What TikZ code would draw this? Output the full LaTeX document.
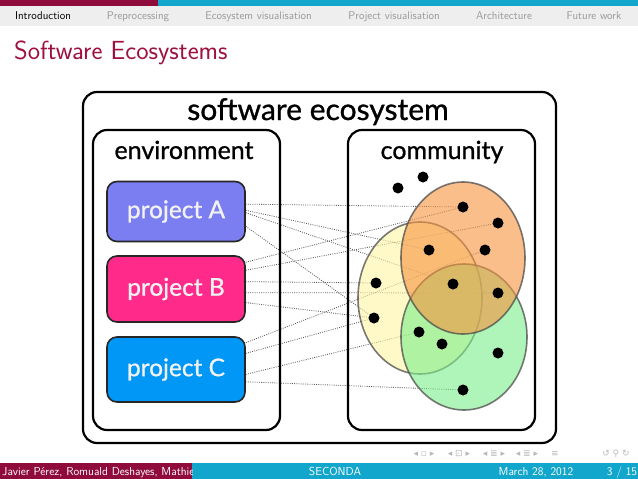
\documentclass[tikz,border=0pt]{standalone}
\usepackage{fontspec}
\newfontfamily\gill[FakeBold=0.9]{Lato}
\newfontfamily\dejavu{DejaVu Sans}
\definecolor{bred}{HTML}{8E0B3C}
\definecolor{bteal}{HTML}{12A6CC}
\definecolor{navgray}{HTML}{EEEEEE}
\definecolor{titlered}{HTML}{9E1040}
\definecolor{projA}{HTML}{7A7EF0}
\definecolor{projB}{HTML}{FF2A8A}
\definecolor{projC}{HTML}{0097F6}
\definecolor{ellO}{RGB}{247,147,63}
\definecolor{ellY}{RGB}{255,245,163}
\definecolor{ellG}{RGB}{122,238,138}
\pgfdeclarelayer{back}
\pgfdeclarelayer{links}
\pgfdeclarelayer{blobs}
\pgfsetlayers{back,links,blobs,main}
\begin{document}
\begin{tikzpicture}[x=1pt,y=-1pt,
  navtxt/.style={font=\sffamily\fontsize{11.2}{12}\selectfont, text=black!40, anchor=base, inner sep=0},
  foottxt/.style={font=\sffamily\fontsize{11.6}{12}\selectfont, text=white, anchor=base, inner sep=0},
  frame/.style={draw=black, line width=2.2pt, rounded corners=14pt, inner sep=0},
  proj/.style={draw=black!85, line width=1.6pt, rounded corners=10pt, minimum width=138pt, minimum height=60pt, inner sep=0, text=white!95!black, font=\gill\fontsize{24.5}{26}\selectfont},
  lbl/.style={font=\gill\fontsize{25}{28}\selectfont, anchor=base, inner sep=0},
  person/.style={circle, fill=black, minimum size=11pt, inner sep=0},
  link/.style={draw=black!65, line width=0.8pt, dash pattern=on 0.9pt off 1.3pt},
  blob/.style={draw=black!70, draw opacity=0.75, line width=1.6pt, fill opacity=0.6},
  navsym/.style={font=\dejavu\fontsize{9}{10}\selectfont, text=black!28, anchor=center, inner sep=0}
]
\useasboundingbox (0,0) rectangle (638,479);
\begin{pgfonlayer}{back}
\fill[white] (0,0) rectangle (638,479);
\end{pgfonlayer}
% header
\fill[bred] (0,0) rectangle (158,5.5);
\fill[bteal] (158,0) rectangle (638,5.5);
\fill[navgray] (0,5.5) rectangle (638,26);
\node[navtxt, text=black] (n1) at (43,19.5) {Introduction};
\node[navtxt] (n2) at (138,19.5) {Preprocessing};
\node[navtxt] (n3) at (258.5,19.5) {Ecosystem visualisation};
\node[navtxt] (n4) at (394,19.5) {Project visualisation};
\node[navtxt] (n5) at (504,19.5) {Architecture};
\node[navtxt] (n6) at (594,19.5) {Future work};
\node[font=\sffamily\fontsize{26.2}{30}\selectfont, text=titlered, anchor=base west, inner sep=0] (title) at (14,59) {Software Ecosystems};
% footer
\fill[bred] (0,463) rectangle (192,479);
\fill[bteal] (192,463) rectangle (638,479);
\begin{scope}
\clip (0,463) rectangle (192,479);
\node[foottxt, anchor=base west] (auth) at (2,475) {Javier Pérez, Romuald Deshayes, Mathieu Goeminne, Tom Mens};
\end{scope}
\node[foottxt] (conf) at (335,475) {SECONDA};
\node[foottxt] (date) at (536,475) {March 28, 2012};
\node[foottxt] (page) at (622,475) {3 / 15};
% navigation symbols
\node[navsym] (ns1) at (424,454) {◂ ▫ ▸};
\node[navsym] (ns2) at (459,454) {◂ ⊡ ▸};
\node[navsym] (ns3) at (494,454) {◂ ≣ ▸};
\node[navsym] (ns4) at (527,454) {◂ ≣ ▸};
\node[navsym] (ns5) at (555,454) {≡};
\node[navsym] (ns6) at (616,454) {↺ ⚲ ↻};
% diagram frames
\node[frame, minimum width=473pt, minimum height=351pt] (eco) at (319.5,267.5) {};
\node[frame, minimum width=187pt, minimum height=300pt] (env) at (186.5,280) {};
\node[frame, minimum width=187pt, minimum height=300pt] (com) at (441.5,280) {};
\node[lbl, font=\gill\fontsize{30}{32}\selectfont] (ecot) at (318,120) {software ecosystem};
\node[lbl] (envt) at (184,159) {environment};
\node[lbl] (comt) at (442,159) {community};
% projects
\node[proj, fill=projA] (A) at (176,211.5) {project A};
\node[proj, fill=projB, minimum height=66pt] (B) at (176,289) {project B};
\node[proj, fill=projC, minimum height=65pt] (C) at (176,369.5) {project C};
% people
\node[person] (d1) at (398,188) {};
\node[person] (d2) at (423,177) {};
\node[person] (d3) at (463,207) {};
\node[person] (d4) at (498,223) {};
\node[person] (d5) at (429,250) {};
\node[person] (d6) at (485,250) {};
\node[person] (d7) at (376,283) {};
\node[person] (d8) at (453,284) {};
\node[person] (d9) at (498,293) {};
\node[person] (d10) at (374,318) {};
\node[person] (d11) at (419,332) {};
\node[person] (d12) at (442,344) {};
\node[person] (d13) at (498,353) {};
\node[person] (d14) at (463,390) {};
% communities
\begin{pgfonlayer}{blobs}
\draw[blob, fill=ellY] (420,298) ellipse [x radius=62pt, y radius=76pt];
\draw[blob, fill=ellG] (464,337) ellipse [x radius=63pt, y radius=73pt];
\draw[blob, fill=ellO] (463,258) ellipse [x radius=62pt, y radius=76pt];
\end{pgfonlayer}
% links
\begin{pgfonlayer}{links}
\draw[link] (A.6) -- (d3.center);
\draw[link] (A.1) -- (d5.center);
\draw[link] (A.-1) -- (d8.center);
\draw[link] (A.-12) -- (d10.center);
\draw[link] (B.21) -- (d3.center);
\draw[link] (B.15) -- (d4.center);
\draw[link] (B.6) -- (d7.center);
\draw[link] (B.-3) -- (d9.center);
\draw[link] (B.-11.5) -- (d10.center);
\draw[link] (C.21) -- (d6.center);
\draw[link] (C.13) -- (d10.center);
\draw[link] (C.-4.6) -- (d11.center);
\draw[link] (C.-10) -- (d14.center);
\end{pgfonlayer}
\end{tikzpicture}
\end{document}
